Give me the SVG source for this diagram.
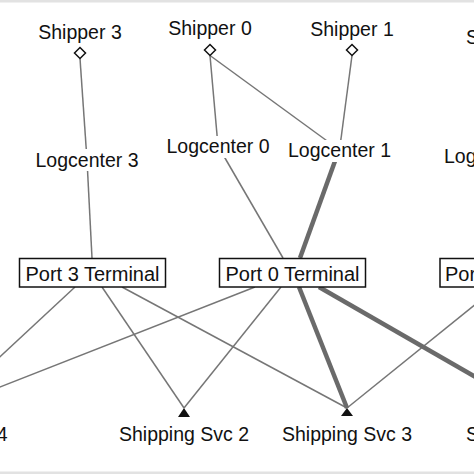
<svg xmlns="http://www.w3.org/2000/svg" width="474" height="474" viewBox="0 0 474 474">
<style>
.t{font-family:"Liberation Sans",Arial,sans-serif;font-size:19.5px;fill:#111}
.p{font-size:20px}
.c{text-anchor:middle}
.thin{stroke:#767676;stroke-width:1.5;fill:none}
.thick{stroke:#6a6a6a;stroke-width:4.5;fill:none}
.bg{fill:#ffffff}
.dia{fill:#fff;stroke:#111;stroke-width:1.5}
.tri{fill:#111}
.box{fill:#fff;stroke:#111;stroke-width:1.5}
</style>
<rect x="0" y="0" width="474" height="474" fill="#ffffff"/>
<rect x="0" y="0" width="474" height="2.5" fill="#e2e2e2"/>
<rect x="0" y="471.5" width="474" height="2.5" fill="#e2e2e2"/>
<g id="connectors">
<line class="thin" x1="80" y1="58.5" x2="87" y2="160"/>
<line class="thin" x1="87" y1="160" x2="92" y2="258"/>
<line class="thin" x1="210" y1="55.5" x2="218" y2="146"/>
<line class="thin" x1="210" y1="55.5" x2="339.5" y2="150"/>
<line class="thin" x1="352" y1="55.5" x2="339.5" y2="150"/>
<line class="thin" x1="218" y1="146" x2="283" y2="258"/>
<line class="thin" x1="75" y1="287" x2="-56" y2="409"/>
<line class="thin" x1="102" y1="287" x2="184" y2="408"/>
<line class="thin" x1="122" y1="287" x2="347" y2="408"/>
<line class="thin" x1="255" y1="287" x2="-56" y2="409"/>
<line class="thin" x1="281" y1="287" x2="184" y2="408"/>
<line class="thin" x1="497" y1="287" x2="347" y2="408"/>
<line class="thick" x1="339" y1="150" x2="300" y2="258"/>
<line class="thick" x1="299" y1="287" x2="347" y2="408"/>
<line class="thick" x1="319" y1="287" x2="531" y2="409"/>
</g>
<g id="shipper3"><text class="t c" x="80" y="39">Shipper 3</text><polygon class="dia" points="80,47.5 85.5,53 80,58.5 74.5,53"/></g>
<g id="shipper0"><text class="t c" x="210" y="35">Shipper 0</text><polygon class="dia" points="210,44.5 215.5,50 210,55.5 204.5,50"/></g>
<g id="shipper1"><text class="t c" x="352" y="36">Shipper 1</text><polygon class="dia" points="352,44.5 357.5,50 352,55.5 346.5,50"/></g>
<g id="shipper2"><text class="t" x="466" y="44">S</text></g>
<g id="logcenter3"><rect class="bg" x="36" y="149" width="102" height="22"/><text class="t c" x="87" y="166.5">Logcenter 3</text></g>
<g id="logcenter0"><rect class="bg" x="167" y="136" width="102" height="22"/><text class="t c" x="218" y="153">Logcenter 0</text></g>
<g id="logcenter1"><rect class="bg" x="289" y="140" width="102" height="22"/><text class="t c" x="339.5" y="157">Logcenter 1</text></g>
<g id="logcenter2"><text class="t" x="444" y="163">Log</text></g>
<g id="port3"><rect class="box" x="19.5" y="258.5" width="146" height="28.5"/><text class="t p c" x="92.5" y="281">Port 3 Terminal</text></g>
<g id="port0"><rect class="box" x="219.5" y="258.5" width="146" height="28.5"/><text class="t p c" x="292.5" y="281">Port 0 Terminal</text></g>
<g id="port2"><rect class="box" x="440" y="258.5" width="146" height="28.5"/><text class="t p" x="445" y="281">Por</text></g>
<g id="svc4"><text class="t" x="7.5" y="441" text-anchor="end">4</text></g>
<g id="svc2"><polygon class="tri" points="184,408 178,417 190,417"/><text class="t c" x="184" y="441">Shipping Svc 2</text></g>
<g id="svc3"><polygon class="tri" points="347,408 341,416 353,416"/><text class="t c" x="347" y="441">Shipping Svc 3</text></g>
<g id="svcR"><text class="t" x="466" y="441">S</text></g>
</svg>
